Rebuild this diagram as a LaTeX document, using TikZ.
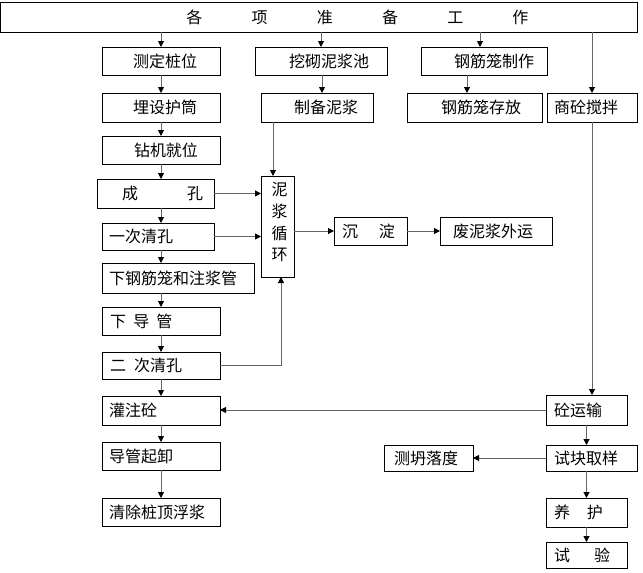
\documentclass[tikz,border=0pt]{standalone}
\usepackage{fontspec}
\setmainfont{Noto Sans CJK SC}
\usetikzlibrary{arrows.meta,calc}
\tikzset{
  bx/.style={draw=black, line width=0.9pt, inner sep=0pt, outer sep=0pt,
    font=\fontsize{16pt}{21.7pt}\selectfont},
  txt/.style={inner sep=0pt, outer sep=0pt, font=\fontsize{16pt}{21.7pt}\selectfont},
  arr/.style={draw=black!60, line width=1pt,
    -{Triangle[length=6pt,width=6pt,color=black]}},
  ln/.style={draw=black!60, line width=1pt}
}
\newcommand\mybox[7]{%
  \pgfmathsetmacro\mbw{#4-#2}%
  \pgfmathsetmacro\mbh{#5-#3}%
  \node[bx, minimum height=\mbh pt, anchor=north west] (#1) at (#2,#3)
    {\makebox[\mbw pt][l]{\hspace*{#6pt}#7}};}
\begin{document}
\begin{tikzpicture}[x=1pt,y=-1pt]
\useasboundingbox (0,0) rectangle (643,573);
% boxes
\mybox{top}{0.5}{2}{637}{32}{186}{各\hspace{49.2pt}项\hspace{49.2pt}准\hspace{49.2pt}备\hspace{49.2pt}工\hspace{49.2pt}作}
\mybox{ce}{102}{47}{220}{75}{31}{测定桩位}
\mybox{wj}{255}{47}{387}{75}{34}{挖砌泥浆池}
\mybox{gz}{421}{47}{547}{75}{33}{钢筋笼制作}
\mybox{mh}{102}{93}{220}{122}{31}{埋设护筒}
\mybox{zb}{261}{93}{373}{122}{33}{制备泥浆}
\mybox{gc}{407}{93}{542}{122}{34}{钢筋笼存放}
\mybox{sj}{547}{93}{637}{122}{7}{商砼搅拌}
\mybox{zj}{102}{136}{220}{164}{32}{钻机就位}
\mybox{ck}{97}{179}{214}{208}{25}{成\hspace{49pt}孔}
\mybox{yc}{102}{223}{214}{250}{7}{一次清孔}
\mybox{xg}{102}{263}{254}{293}{7}{下钢筋笼和注浆管}
\mybox{xd}{102}{307}{220}{335}{8}{下\hspace{7.5pt}导\hspace{7pt}管}
\mybox{ec}{102}{352}{220}{379}{8}{二\hspace{8pt}次清孔}
\mybox{gzt}{102}{396}{220}{425}{7}{灌注砼}
\mybox{dq}{102}{442}{220}{470}{7}{导管起卸}
\mybox{qc}{102}{498}{220}{526}{7}{清除桩顶浮浆}
\mybox{cd}{334}{217}{407}{245}{8}{沉\hspace{21pt}淀}
\mybox{fy}{440}{217}{552}{245}{13}{废泥浆外运}
\mybox{ys}{546}{395}{627}{425}{8}{砼运输}
\mybox{tl}{384}{445}{473}{471}{10}{测坍落度}
\mybox{sk}{546}{445}{637}{471}{8}{试块取样}
\mybox{yh}{546}{498}{627}{527}{8}{养\hspace{17pt}护}
\mybox{sy}{546}{542}{627}{568}{8}{试\hspace{24pt}验}
\node[bx, minimum width=33pt, minimum height=101pt, anchor=north west] (nj) at (261,176) {};
\node[txt, align=center, anchor=north] (njt) at (279.5,182.5) {泥\\浆\\循\\环};
% helper coordinates
\coordinate (lx) at (mh.south);
\coordinate (g1) at ([xshift=-4pt]gz.north);
\coordinate (g2) at ([xshift=-17pt]gz.south);
\coordinate (z1) at ([xshift=5pt]zb.north);
\coordinate (z2) at ([xshift=-4.5pt]nj.north);
\coordinate (n2) at ([xshift=3.5pt]nj.south);
% top row arrows
\draw[arr] (top.south -| ce.north) -- (ce.north);
\draw[arr] (top.south -| wj.north) -- (wj.north);
\draw[arr] (top.south -| g1) -- (g1);
\draw[arr] (top.south -| sj.north) -- (sj.north);
\draw[arr] (ce.south) -- (mh.north);
\draw[arr] (wj.south -| z1) -- (z1);
\draw[arr] (g2) -- (g2 |- gc.north);
% left column
\draw[arr] (mh.south) -- (zj.north -| lx);
\draw[arr] (zj.south -| lx) -- (ck.north -| lx);
\draw[arr] (ck.south -| lx) -- (yc.north -| lx);
\draw[arr] (yc.south -| lx) -- (xg.north -| lx);
\draw[arr] (xg.south -| lx) -- (xd.north -| lx);
\draw[arr] (xd.south -| lx) -- (ec.north -| lx);
\draw[arr] (ec.south -| lx) -- (gzt.north -| lx);
\draw[arr] (gzt.south -| lx) -- (dq.north -| lx);
\draw[arr] (dq.south -| lx) -- (qc.north -| lx);
% mud circulation
\draw[arr] (zb.south -| z2) -- (z2);
\draw[arr] (ck.east) -- (ck.east -| nj.west);
\draw[arr] (yc.east) -- (yc.east -| nj.west);
\draw[arr] (cd.west -| nj.east) -- (cd.west);
\draw[arr] (cd.east) -- (fy.west);
\draw[arr] (ec.east) -| (n2);
% concrete
\draw[arr] (sj.south) -- (sj.south |- ys.north);
\draw[arr] (ys.west) -- (ys.west -| gzt.east);
\draw[arr] (ys.south) -- (ys.south |- sk.north);
\draw[arr] (sk.west) -- (sk.west -| tl.east);
\draw[arr] (sk.south -| yh.north) -- (yh.north);
\draw[arr] (yh.south) -- (sy.north);
\end{tikzpicture}
\end{document}
